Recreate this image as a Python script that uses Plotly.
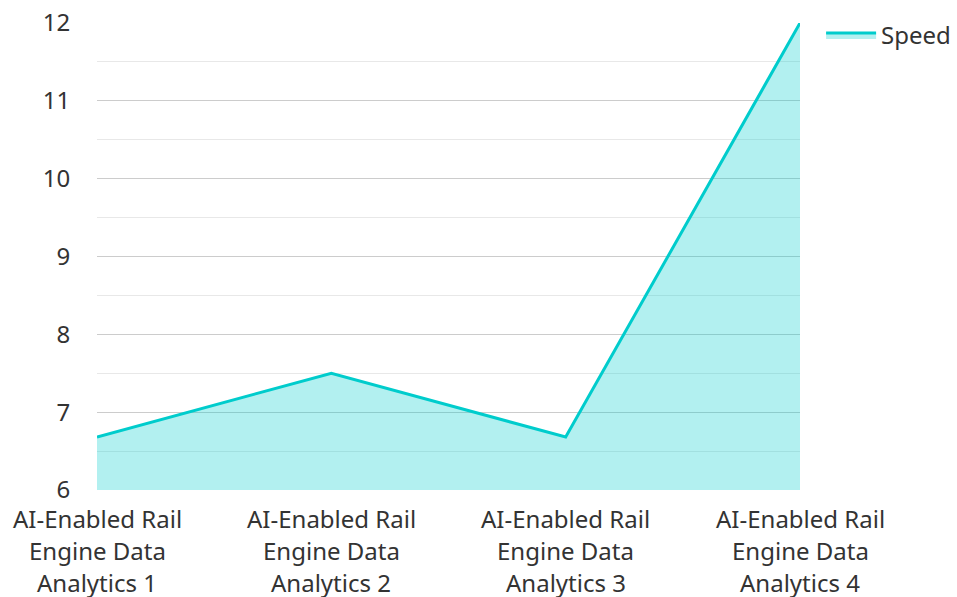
import plotly.graph_objects as go

categories = [
    "AI-Enabled Rail<br>Engine Data<br>Analytics 1",
    "AI-Enabled Rail<br>Engine Data<br>Analytics 2",
    "AI-Enabled Rail<br>Engine Data<br>Analytics 3",
    "AI-Enabled Rail<br>Engine Data<br>Analytics 4",
]
speed = [6.68, 7.5, 6.68, 12]
series_name = "Speed"

FONT = "Noto Sans"
TXT = "#333333"

fig = go.Figure()
fig.add_trace(go.Scatter(
    x=list(range(len(categories))), y=speed, name=series_name,
    mode="lines", fill="tozeroy",
    line=dict(color="#00cccc", width=3),
    fillcolor="rgba(0,204,204,0.3)",
))

annotations = []
for i, cat in enumerate(categories):
    for j, line in enumerate(cat.split("<br>")):
        annotations.append(dict(
            x=i, xref="x", y=0, yref="paper", yanchor="middle",
            yshift=-28 - 32 * j, text=line, showarrow=False,
            font=dict(family=FONT, size=24, color=TXT),
        ))

fig.update_layout(
    width=957, height=597,
    margin=dict(l=97, r=157, t=23, b=107, autoexpand=False),
    paper_bgcolor="white", plot_bgcolor="white",
    font=dict(family=FONT, size=24, color=TXT),
    showlegend=True,
    legend=dict(x=1.03, xanchor="left", y=1.0214, yanchor="top",
                itemwidth=50,
                font=dict(family=FONT, size=24, color=TXT),
                bgcolor="rgba(0,0,0,0)"),
    xaxis=dict(range=[0, 3], showticklabels=False, showgrid=False,
               zeroline=False, showline=False, fixedrange=True),
    yaxis=dict(range=[6, 12], dtick=1, showgrid=True, gridcolor="#cccccc",
               gridwidth=1, zeroline=False, showline=False,
               ticks="outside", ticklen=21, tickcolor="rgba(0,0,0,0)",
               tickfont=dict(family=FONT, size=24, color=TXT),
               minor=dict(dtick=0.5, showgrid=True, gridcolor="#e8e8e8", gridwidth=1)),
    annotations=annotations,
)

fig.write_html("out.html")
